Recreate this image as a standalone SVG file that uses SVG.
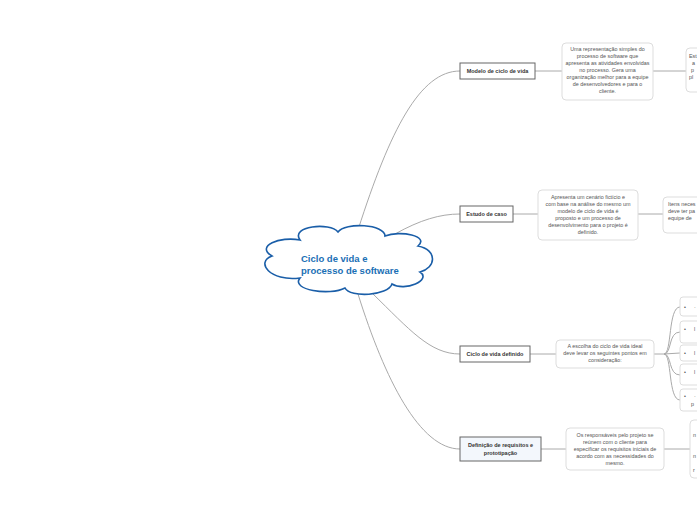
<svg xmlns="http://www.w3.org/2000/svg" width="697" height="520" viewBox="0 0 697 520">
<style>
.c{fill:none;stroke:#aaa;stroke-width:1}
.m{fill:#fff;stroke:#666;stroke-width:1}
.s{fill:#fff;stroke:#ddd;stroke-width:1}
.mt{font-family:"Liberation Sans",Arial,sans-serif;font-size:5.5px;font-weight:bold;fill:#333;text-anchor:middle}
.st{font-family:"Liberation Sans",Arial,sans-serif;font-size:5.4px;fill:#555;text-anchor:middle}
.lt{font-family:"Liberation Sans",Arial,sans-serif;font-size:5.4px;fill:#555}
</style>
<rect width="697" height="520" fill="#fff"/>
<g id="connectors">
<path class="c" d="M358,230 C390,130 420,71 460,71"/>
<path class="c" d="M395,234 C420,220 440,214 460,214"/>
<path class="c" d="M372,293 C410,330 430,354 460,354"/>
<path class="c" d="M358,294 C385,380 420,449 460,449"/>
<line class="c" x1="535" y1="71" x2="562" y2="71"/>
<line class="c" x1="653" y1="71" x2="686" y2="71"/>
<line class="c" x1="513" y1="214" x2="538" y2="214"/>
<line class="c" x1="638" y1="214" x2="663" y2="214"/>
<line class="c" x1="530" y1="354" x2="556" y2="354"/>
<line class="c" x1="654" y1="354" x2="664" y2="354"/>
<path class="c" d="M664,354 C672,354 668,307 680,307"/>
<path class="c" d="M664,354 C672,354 668,332 680,332"/>
<line class="c" x1="664" y1="354" x2="680" y2="353"/>
<path class="c" d="M664,354 C672,354 668,375 680,375"/>
<path class="c" d="M664,354 C672,354 668,400 680,400"/>
<line class="c" x1="541" y1="449" x2="566" y2="449"/>
<line class="c" x1="664" y1="449" x2="690" y2="449"/>
</g>
<g id="root">
<path d="M300,240 C290,226 330,222 338,232 C345,222 385,224 385,236 C400,230 430,236 418,246 C438,250 436,268 420,272 C432,280 405,292 392,284 C388,296 350,298 345,288 C330,296 290,290 300,278 C270,282 255,262 272,256 C255,246 280,236 300,240 Z" fill="#fff" stroke="#1a5ea8" stroke-width="1.6"/>
<text x="301" y="262" font-family="Liberation Sans,Arial,sans-serif" font-size="9.5" font-weight="bold" fill="#1a6fb5">Ciclo de vida e</text>
<text x="301" y="274" font-family="Liberation Sans,Arial,sans-serif" font-size="9.5" font-weight="bold" fill="#1a6fb5">processo de software</text>
</g>
<g id="n1"><rect class="m" x="460" y="63" width="75" height="16"/><text class="mt" x="497.5" y="73">Modelo de ciclo de vida</text></g>
<g id="n2"><rect class="m" x="460" y="206" width="53" height="16"/><text class="mt" x="486.5" y="216">Estudo de caso</text></g>
<g id="n3"><rect class="m" x="460" y="346" width="70" height="16"/><text class="mt" x="495" y="356">Ciclo de vida definido</text></g>
<g id="n4"><rect x="460" y="437" width="81" height="24" fill="#f3f7fc" stroke="#666"/><text class="mt" x="500.5" y="447">Definição de requisitos e</text><text class="mt" x="500.5" y="455">prototipação</text></g>
<g id="s1"><rect class="s" x="562" y="43" width="91" height="57" rx="4"/>
<text class="st" x="607.5" y="51">Uma representação simples do</text><text class="st" x="607.5" y="58">processo de software que</text><text class="st" x="607.5" y="65">apresenta as atividades envolvidas</text><text class="st" x="607.5" y="72">no processo. Gera uma</text><text class="st" x="607.5" y="79">organização melhor para a equipe</text><text class="st" x="607.5" y="86">de desenvolvedores e para o</text><text class="st" x="607.5" y="93">cliente.</text></g>
<g id="s2"><rect class="s" x="538" y="190" width="100" height="50" rx="4"/>
<text class="st" x="588" y="199">Apresenta um cenário fictício e</text><text class="st" x="588" y="206">com base na análise do mesmo um</text><text class="st" x="588" y="213">modelo de ciclo de vida é</text><text class="st" x="588" y="220">proposto e um processo de</text><text class="st" x="588" y="227">desenvolvimento para o projeto é</text><text class="st" x="588" y="234">definido.</text></g>
<g id="s3"><rect class="s" x="556" y="340" width="98" height="28" rx="4"/>
<text class="st" x="605" y="348">A escolha do ciclo de vida ideal</text><text class="st" x="605" y="355">deve levar os seguintes pontos em</text><text class="st" x="605" y="362">consideração:</text></g>
<g id="s4"><rect class="s" x="566" y="428" width="98" height="42" rx="4"/>
<text class="st" x="615" y="437">Os responsáveis pelo projeto se</text><text class="st" x="615" y="444">reúnem com o cliente para</text><text class="st" x="615" y="451">especificar os requisitos iniciais de</text><text class="st" x="615" y="458">acordo com as necessidades do</text><text class="st" x="615" y="465">mesmo.</text></g>
<g id="e1"><rect class="s" x="686" y="48" width="30" height="44" rx="4"/><text class="lt" x="689" y="58">Est</text><text class="lt" x="692" y="65">a</text><text class="lt" x="691" y="72">p</text><text class="lt" x="689" y="79">pl</text></g>
<g id="e2"><rect class="s" x="663" y="197" width="50" height="36" rx="4"/><text class="lt" x="668" y="206">Itens neces</text><text class="lt" x="668" y="213">deve ter pa</text><text class="lt" x="668" y="220">equipe de</text></g>
<g id="e3"><rect class="s" x="680" y="297" width="30" height="19" rx="3"/><text class="lt" x="684" y="309">•</text><text class="lt" x="694" y="309">·</text></g>
<g id="e4"><rect class="s" x="680" y="321" width="30" height="22" rx="3"/><text class="lt" x="684" y="331">•</text><text class="lt" x="694" y="331">l</text></g>
<g id="e5"><rect class="s" x="680" y="345" width="30" height="16" rx="3"/><text class="lt" x="684" y="355">•</text><text class="lt" x="694" y="355">l</text></g>
<g id="e6"><rect class="s" x="680" y="364" width="30" height="21" rx="3"/><text class="lt" x="684" y="374">•</text><text class="lt" x="694" y="374">l</text></g>
<g id="e7"><rect class="s" x="680" y="389" width="30" height="22" rx="3"/><text class="lt" x="684" y="398">•</text><text class="lt" x="694" y="398">·</text><text class="lt" x="691" y="406">p</text></g>
<g id="e8"><rect class="s" x="690" y="420" width="30" height="58" rx="4"/><text class="lt" x="693" y="437">n</text><text class="lt" x="693" y="458">n</text><text class="lt" x="693" y="472">r</text></g>
</svg>
